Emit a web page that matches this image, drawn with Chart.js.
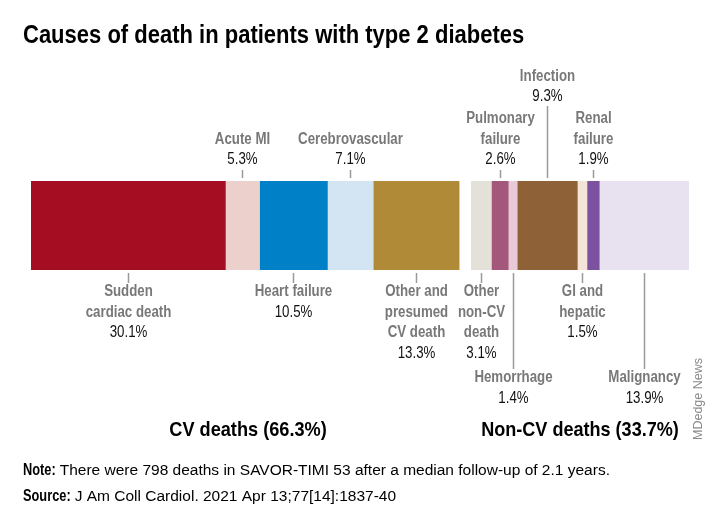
<!DOCTYPE html>
<html>
<head>
<meta charset="utf-8">
<script src="https://cdn.jsdelivr.net/npm/chart.js@4"></script>
<style>
  html, body { margin: 0; padding: 0; background: #fff; }
  #wrap { width: 720px; height: 528px; position: relative; }
</style>
</head>
<body>
<div id="wrap"><canvas id="chart" width="720" height="528"></canvas></div>
<script>
// causes of death, share of all deaths (%)
const cvCauses = [["Sudden", "cardiac death"], ["Acute MI"], ["Heart failure"], ["Cerebrovascular"], ["Other and", "presumed", "CV death"]];
const cvValues = [30.1, 5.3, 10.5, 7.1, 13.3];
const cvColors = ["#A50D22", "#EBD0CC", "#0080C6", "#D3E4F3", "#B18A38"];

const nonCvCauses = [["Other", "non-CV", "death"], ["Pulmonary", "failure"], ["Hemorrhage"], ["Infection"], ["GI and", "hepatic"], ["Renal", "failure"], ["Malignancy"]];
const nonCvValues = [3.1, 2.6, 1.4, 9.3, 1.5, 1.9, 13.9];
const nonCvColors = ["#E4E1D8", "#A3587B", "#E8C9D6", "#8F6136", "#F4E3D7", "#7C51A0", "#E8E1F0"];

const groupLabels = ["CV deaths (66.3%)", "Non-CV deaths (33.7%)"];

// where each label sits relative to the bar
const cvPlace = ["below", "above", "below", "above", "below"];
const nonCvPlace = ["below", "above", "belowLong", "aboveLong", "below", "above", "belowLong"];

const GAP = 1.9; // blank space between the two groups, in % units

// no condensed face installed, so squeeze Liberation Sans horizontally
const SANS = '"Liberation Sans", Arial, sans-serif';

const datasets = [];
cvValues.forEach((v, i) => datasets.push({label: cvCauses[i].join(" "), data: [v], backgroundColor: cvColors[i], place: cvPlace[i], lines: cvCauses[i], group: 0}));
datasets.push({label: "gap", data: [GAP], backgroundColor: "rgba(0,0,0,0)", gap: true});
nonCvValues.forEach((v, i) => datasets.push({label: nonCvCauses[i].join(" "), data: [v], backgroundColor: nonCvColors[i], place: nonCvPlace[i], lines: nonCvCauses[i], group: 1}));
datasets.forEach(d => { d.borderWidth = 0; d.barPercentage = 1; d.categoryPercentage = 1; });

// draw squeezed text; returns drawn width
function sqText(ctx, str, x, y, font, color, align, sx) {
  ctx.save();
  ctx.font = font;
  ctx.fillStyle = color;
  ctx.textAlign = align;
  ctx.textBaseline = "middle";
  ctx.translate(x, y);
  ctx.scale(sx, 1);
  ctx.fillText(str, 0, 0);
  const w = ctx.measureText(str).width * sx;
  ctx.restore();
  return w;
}

const labelPlugin = {
  id: "labels",
  afterDraw(chart) {
    const ctx = chart.ctx;
    const top = chart.chartArea.top, bottom = chart.chartArea.bottom;
    const lh = 20.5;
    ctx.save();
    ctx.strokeStyle = "#9a9a9a";
    ctx.lineWidth = 1.5;

    chart.data.datasets.forEach((ds, i) => {
      if (ds.gap) return;
      const el = chart.getDatasetMeta(i).data[0];
      const cx = Math.round((el.base + el.x) / 2) + 0.5;
      const pct = ds.data[0].toFixed(1) + "%";
      const rows = ds.lines.concat([pct]);
      let y1, y2, firstY;
      if (ds.place === "above" || ds.place === "aboveLong") {
        const lastY = ds.place === "aboveLong" ? top - 84 : top - 21;
        y1 = ds.place === "aboveLong" ? top - 75 : top - 11;
        y2 = top - 3;
        firstY = lastY - (rows.length - 1) * lh;
      } else {
        y1 = bottom + 3;
        y2 = ds.place === "belowLong" ? bottom + 99 : bottom + 13;
        firstY = ds.place === "belowLong" ? bottom + 108 : bottom + 22;
      }
      ctx.beginPath();
      ctx.moveTo(cx, y1);
      ctx.lineTo(cx, y2);
      ctx.stroke();
      rows.forEach((t, k) => {
        const isPct = k === rows.length - 1;
        sqText(ctx, t, cx, firstY + k * lh, (isPct ? "" : "bold ") + "16px " + SANS,
               isPct ? "#111" : "#787878", "center", 0.83);
      });
    });

    // group captions
    sqText(ctx, groupLabels[0], 248, 430, "bold 21px " + SANS, "#000", "center", 0.865);
    sqText(ctx, groupLabels[1], 580, 430, "bold 21px " + SANS, "#000", "center", 0.86);

    // title
    sqText(ctx, "Causes of death in patients with type 2 diabetes", 23, 36, "bold 25px " + SANS, "#000", "left", 0.88);

    // note + source
    const foot = [["Note:", "There were 798 deaths in SAVOR-TIMI 53 after a median follow-up of 2.1 years.", 471],
                  ["Source:", "J Am Coll Cardiol. 2021 Apr 13;77[14]:1837-40", 497]];
    foot.forEach(([head, rest, y]) => {
      const w = sqText(ctx, head, 23, y, "bold 16px " + SANS, "#000", "left", 0.8);
      sqText(ctx, rest, 23 + w + 4, y, "15.5px " + SANS, "#000", "left", 1);
    });

    // credit
    ctx.translate(699, 399);
    ctx.rotate(-Math.PI / 2);
    ctx.textAlign = "center";
    ctx.textBaseline = "middle";
    ctx.fillStyle = "#8a8a8a";
    ctx.font = "12.5px " + SANS;
    ctx.fillText("MDedge News", 0, 0);
    ctx.restore();
  }
};

new Chart(document.getElementById("chart"), {
  type: "bar",
  data: { labels: ["deaths"], datasets: datasets },
  options: {
    indexAxis: "y",
    responsive: false,
    animation: false,
    layout: { padding: { left: 31, right: 31, top: 181, bottom: 258 } },
    scales: {
      x: { stacked: true, display: false, min: 0, max: 100 + GAP },
      y: { stacked: true, display: false }
    },
    plugins: { legend: { display: false }, tooltip: { enabled: false }, title: { display: false } }
  },
  plugins: [labelPlugin]
});
</script>
</body>
</html>
